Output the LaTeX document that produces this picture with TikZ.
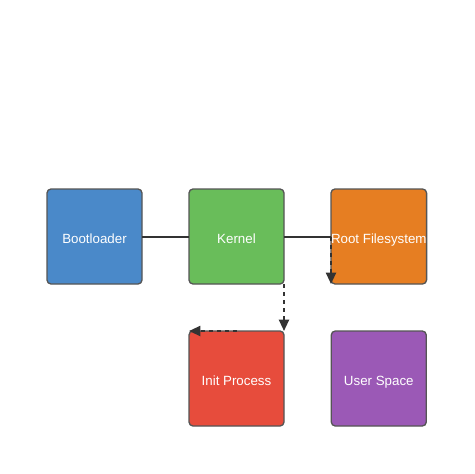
\documentclass[tikz,border=0pt]{standalone}
\usepackage{fontspec}
\setmainfont{Liberation Sans}
\usetikzlibrary{positioning,arrows.meta}
\definecolor{bootblue}{HTML}{4A89C9}
\definecolor{kerngreen}{HTML}{69BD5A}
\definecolor{rootorange}{HTML}{E67E22}
\definecolor{initred}{HTML}{E74C3C}
\definecolor{userpurple}{HTML}{9B59B6}
\definecolor{edgegray}{HTML}{555555}
\definecolor{linegray}{HTML}{333333}
\begin{document}
\begin{tikzpicture}[x=0.75pt,y=-0.75pt]
        \tikzstyle{stage_style} = [rectangle,rounded corners=3pt,draw=edgegray,line width=1pt,minimum size=71.25pt,inner sep=0pt,outer sep=0pt,text=white,text height=1em,text depth=0pt,font=\fontsize{10}{12}\selectfont]
        \tikzstyle{link_style} = [draw=linegray,line width=1.5pt]
        \tikzstyle{flow_style} = [link_style,dashed,-{Triangle[length=8.5pt,width=7.5pt]}]
        \useasboundingbox (0,0) rectangle (474,474);
        \node[stage_style,fill=bootblue] (boot) at (94.5,236.5) {Bootloader};
        \node[stage_style,fill=kerngreen,right=35.25pt of boot] (kernel) {Kernel};
        \node[stage_style,fill=rootorange,right=35.25pt of kernel] (rootfs) {Root Filesystem};
        \node[stage_style,fill=initred,below=35.25pt of kernel] (init) {Init Process};
        \node[stage_style,fill=userpurple,below=35.25pt of rootfs] (user) {User Space};
        \draw[link_style] (boot) -- (kernel);
        \draw[link_style] (kernel) -- (rootfs);
        \draw[flow_style] (rootfs.west) -- (rootfs.south west);
        \draw[flow_style] (kernel.south east) -- (init.north east);
        \draw[flow_style] (init.north) -- (init.north west);
      \end{tikzpicture}
\end{document}
